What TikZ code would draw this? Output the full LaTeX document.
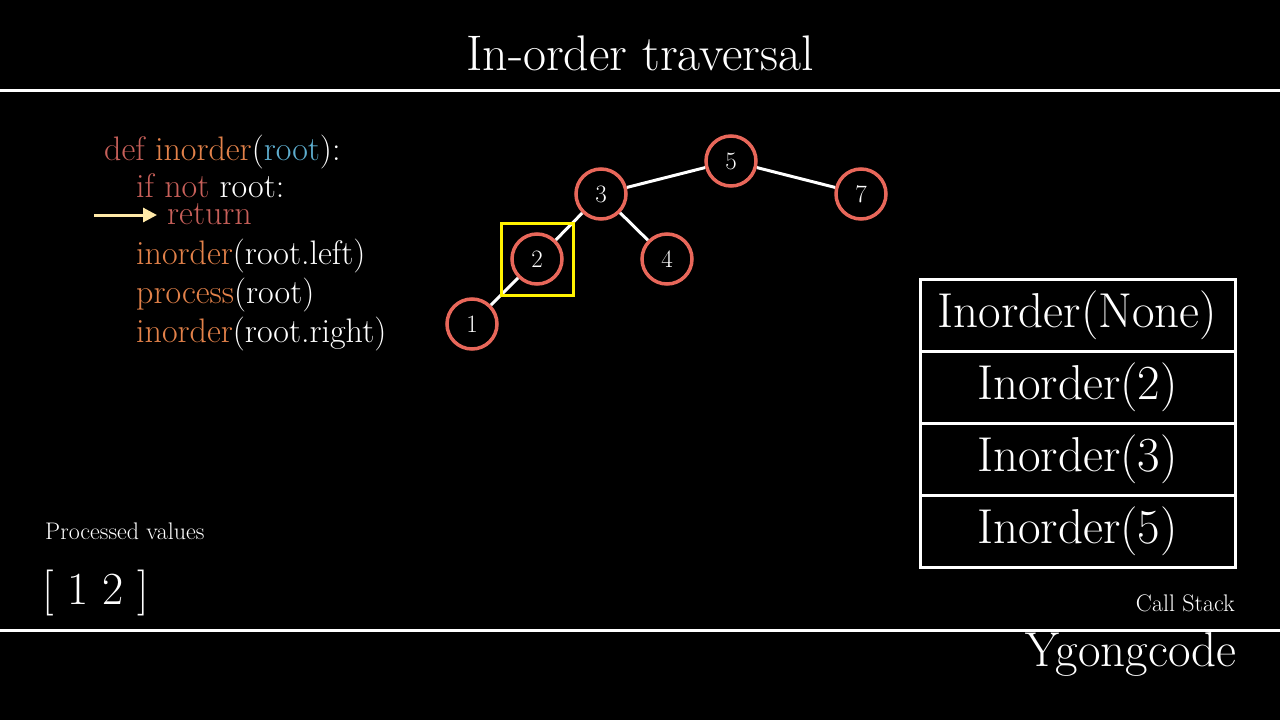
\documentclass[tikz,border=0pt]{standalone}
\usetikzlibrary{arrows.meta}
\definecolor{kred}{HTML}{C8605A}
\definecolor{korg}{HTML}{E3824A}
\definecolor{kblu}{HTML}{5EAECF}
\definecolor{ncol}{HTML}{E8675A}
\definecolor{arr}{HTML}{FFE9A8}
\begin{document}
\begin{tikzpicture}[x=1pt,y=-1pt,
  tnode/.style={circle,draw=ncol,line width=3.5pt,fill=black,minimum size=50pt,inner sep=0pt,text=white,font=\fontsize{25}{27}\selectfont},
  code/.style={anchor=base west,inner sep=0pt,text=white,font=\fontsize{34}{36}\selectfont},
  stk/.style={draw=white,line width=3pt,minimum width=315pt,minimum height=72pt,inner sep=0pt,text=white,font=\fontsize{49}{52}\selectfont},
  edge/.style={white,line width=3pt}]
\fill[black] (0,0) rectangle (1280,720);
\useasboundingbox (0,0) rectangle (1280,720);
\node[text=white,font=\fontsize{50}{54}\selectfont,anchor=base,inner sep=0pt] (title) at (640,70) {In-order traversal};
\coordinate (tl) at (0,90); \coordinate (tr) at (1280,90);
\draw[white,line width=3pt] (tl) -- (tr);
\coordinate (bl) at (0,630); \coordinate (br) at (1280,630);
\draw[white,line width=3pt] (bl) -- (br);
% code
\node[code] (c1) at (104,160) {\textcolor{kred}{def} \textcolor{korg}{inorder}(\textcolor{kblu}{root}):};
\node[code] (c2) at (136,197) {\textcolor{kred}{if not} root:};
\node[code] (c3) at (167,224) {\textcolor{kred}{return}};
\node[code] (c4) at (136,264) {\textcolor{korg}{inorder}(root.left)};
\node[code] (c5) at (136,303) {\textcolor{korg}{process}(root)};
\node[code] (c6) at (136,342) {\textcolor{korg}{inorder}(root.right)};
\coordinate (a0) at (94,215);
\coordinate (a1) at (157,215);
\draw[arr,line width=3pt,-{Triangle[length=14pt,width=14pt]}] (a0) -- (a1);
% tree
\node[tnode] (n5) at (731,161) {5};
\node[tnode] (n3) at (601,194) {3};
\node[tnode] (n7) at (861,194) {7};
\node[tnode] (n2) at (537,259) {2};
\node[tnode] (n4) at (667,259) {4};
\node[tnode] (n1) at (472,324) {1};
\draw[edge] (n5) -- (n3); \draw[edge] (n5) -- (n7);
\draw[edge] (n3) -- (n2); \draw[edge] (n3) -- (n4);
\draw[edge] (n2) -- (n1);
\node[draw=yellow,line width=3pt,minimum size=72pt,inner sep=0pt] (hl) at (537,259) {};
% stack
\node[stk] (s1) at (1077.5,315.5) {Inorder(None)};
\node[stk] (s2) at (1077.5,387) {Inorder(2)};
\node[stk] (s3) at (1077.5,459) {Inorder(3)};
\node[stk] (s4) at (1077.5,531) {Inorder(5)};
\node[anchor=base east,inner sep=0pt,text=white,font=\fontsize{24}{26}\selectfont] (cs) at (1235,611) {Call Stack};
\node[anchor=base east,inner sep=0pt,text=white,font=\fontsize{49}{52}\selectfont] (yg) at (1237,666) {Ygongcode};
\node[anchor=base west,inner sep=0pt,text=white,font=\fontsize{24}{26}\selectfont] (pv) at (45,539) {Processed values};
\node[anchor=base west,inner sep=0pt,text=white,font=\fontsize{46}{50}\selectfont] (vals) at (42,604) {[ 1 2 ]};
\end{tikzpicture}
\end{document}
